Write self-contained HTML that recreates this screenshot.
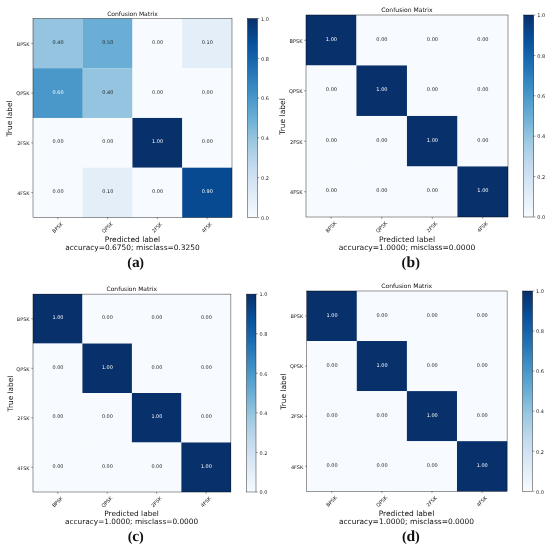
<!DOCTYPE html>
<html><head><meta charset="utf-8"><title>Confusion Matrix</title>
<style>
html,body{margin:0;padding:0;background:#fff}
body{width:550px;height:548px;overflow:hidden}
svg{display:block}
svg text{text-rendering:geometricPrecision}
.cap{font-family:"Liberation Serif","DejaVu Serif",serif;font-weight:bold;font-size:14.2px;fill:#111}
.cl{font-size:15.5px}
</style></head><body>
<svg width="550" height="548" viewBox="0 0 550 548" font-family="DejaVu Sans, Liberation Sans, sans-serif" fill="#111"><defs><linearGradient id="bl" x1="0" y1="0" x2="0" y2="1">
<stop offset="0.0000" stop-color="#08306b"/>
<stop offset="0.0625" stop-color="#084082"/>
<stop offset="0.1250" stop-color="#08509b"/>
<stop offset="0.1875" stop-color="#1460a8"/>
<stop offset="0.2500" stop-color="#2070b4"/>
<stop offset="0.3125" stop-color="#3181bd"/>
<stop offset="0.3750" stop-color="#4191c6"/>
<stop offset="0.4375" stop-color="#56a0ce"/>
<stop offset="0.5000" stop-color="#6aaed6"/>
<stop offset="0.5625" stop-color="#84bcdb"/>
<stop offset="0.6250" stop-color="#9dcae1"/>
<stop offset="0.6875" stop-color="#b2d2e8"/>
<stop offset="0.7500" stop-color="#c6dbef"/>
<stop offset="0.8125" stop-color="#d2e3f3"/>
<stop offset="0.8750" stop-color="#deebf7"/>
<stop offset="0.9375" stop-color="#eaf3fb"/>
<stop offset="1.0000" stop-color="#f7fbff"/>
</linearGradient></defs>
<g><rect x="32.95" y="18.45" width="49.85" height="49.85" fill="#94c4df"/><rect x="82.7" y="18.45" width="49.85" height="49.85" fill="#6aaed6"/><rect x="132.45" y="18.45" width="49.85" height="49.85" fill="#f7fbff"/><rect x="182.2" y="18.45" width="49.85" height="49.85" fill="#e3eef9"/><rect x="32.95" y="68.2" width="49.85" height="49.85" fill="#4a98c9"/><rect x="82.7" y="68.2" width="49.85" height="49.85" fill="#94c4df"/><rect x="132.45" y="68.2" width="49.85" height="49.85" fill="#f7fbff"/><rect x="182.2" y="68.2" width="49.85" height="49.85" fill="#f7fbff"/><rect x="32.95" y="117.95" width="49.85" height="49.85" fill="#f7fbff"/><rect x="82.7" y="117.95" width="49.85" height="49.85" fill="#f7fbff"/><rect x="132.45" y="117.95" width="49.85" height="49.85" fill="#08306b"/><rect x="182.2" y="117.95" width="49.85" height="49.85" fill="#f7fbff"/><rect x="32.95" y="167.7" width="49.85" height="49.85" fill="#f7fbff"/><rect x="82.7" y="167.7" width="49.85" height="49.85" fill="#e3eef9"/><rect x="132.45" y="167.7" width="49.85" height="49.85" fill="#f7fbff"/><rect x="182.2" y="167.7" width="49.85" height="49.85" fill="#084a91"/><rect x="33" y="18.5" width="199" height="199" fill="none" stroke="#000" stroke-width="0.4"/><rect x="247.5" y="18.5" width="10" height="199" fill="url(#bl)" stroke="#000" stroke-width="0.4"/><path d="M31.25 43.38h1.75M57.88 217.5v1.75M31.25 93.12h1.75M107.62 217.5v1.75M31.25 142.88h1.75M157.38 217.5v1.75M31.25 192.62h1.75M207.12 217.5v1.75M257.5 217.5h1.75M257.5 177.7h1.75M257.5 137.9h1.75M257.5 98.1h1.75M257.5 58.3h1.75M257.5 18.5h1.75" stroke="#000" stroke-width="0.4" fill="none"/><g font-size="4.95" fill="#222"><text x="29.5" y="45.63" text-anchor="end">BPSK</text><text transform="translate(57.52 227.4) rotate(-45)" text-anchor="middle" y="1.81">BPSK</text><text x="29.5" y="95.38" text-anchor="end">QPSK</text><text transform="translate(107.28 227.4) rotate(-45)" text-anchor="middle" y="1.81">QPSK</text><text x="29.5" y="145.13" text-anchor="end">2FSK</text><text transform="translate(157.03 227.4) rotate(-45)" text-anchor="middle" y="1.81">2FSK</text><text x="29.5" y="194.88" text-anchor="end">4FSK</text><text transform="translate(206.78 227.4) rotate(-45)" text-anchor="middle" y="1.81">4FSK</text><text x="261" y="219.76">0.0</text><text x="261" y="179.96">0.2</text><text x="261" y="140.16">0.4</text><text x="261" y="100.36">0.6</text><text x="261" y="60.56">0.8</text><text x="261" y="20.76">1.0</text><g text-anchor="middle"><text x="58.08" y="43.92">0.40</text><text x="107.83" y="43.92">0.50</text><text x="157.57" y="43.92">0.00</text><text x="207.32" y="43.92">0.10</text><text x="58.08" y="93.67" fill="#fff">0.60</text><text x="107.83" y="93.67">0.40</text><text x="157.57" y="93.67">0.00</text><text x="207.32" y="93.67">0.00</text><text x="58.08" y="143.43">0.00</text><text x="107.83" y="143.43">0.00</text><text x="157.57" y="143.43" fill="#fff">1.00</text><text x="207.32" y="143.43">0.00</text><text x="58.08" y="193.18">0.00</text><text x="107.83" y="193.18">0.10</text><text x="157.57" y="193.18">0.00</text><text x="207.32" y="193.18" fill="#fff">0.90</text></g></g><text x="132.5" y="15.7" text-anchor="middle" font-size="6">Confusion Matrix</text><g text-anchor="middle" font-size="7.45"><text x="132.5" y="241.8">Predicted label</text><text x="132.5" y="249.7">accuracy=0.6750; misclass=0.3250</text><text transform="translate(12.4 118.5) rotate(-90)">True label</text></g><text class="cap"><tspan x="127.3" y="266.6">(</tspan><tspan x="131.89" y="267.1" class="cl">a</tspan><tspan x="139.2" y="266.6">)</tspan></text></g>
<g><rect x="305.95" y="14.95" width="50.6" height="50.6" fill="#08306b"/><rect x="356.45" y="14.95" width="50.6" height="50.6" fill="#f7fbff"/><rect x="406.95" y="14.95" width="50.6" height="50.6" fill="#f7fbff"/><rect x="457.45" y="14.95" width="50.6" height="50.6" fill="#f7fbff"/><rect x="305.95" y="65.45" width="50.6" height="50.6" fill="#f7fbff"/><rect x="356.45" y="65.45" width="50.6" height="50.6" fill="#08306b"/><rect x="406.95" y="65.45" width="50.6" height="50.6" fill="#f7fbff"/><rect x="457.45" y="65.45" width="50.6" height="50.6" fill="#f7fbff"/><rect x="305.95" y="115.95" width="50.6" height="50.6" fill="#f7fbff"/><rect x="356.45" y="115.95" width="50.6" height="50.6" fill="#f7fbff"/><rect x="406.95" y="115.95" width="50.6" height="50.6" fill="#08306b"/><rect x="457.45" y="115.95" width="50.6" height="50.6" fill="#f7fbff"/><rect x="305.95" y="166.45" width="50.6" height="50.6" fill="#f7fbff"/><rect x="356.45" y="166.45" width="50.6" height="50.6" fill="#f7fbff"/><rect x="406.95" y="166.45" width="50.6" height="50.6" fill="#f7fbff"/><rect x="457.45" y="166.45" width="50.6" height="50.6" fill="#08306b"/><rect x="306" y="15" width="202" height="202" fill="none" stroke="#000" stroke-width="0.41"/><rect x="523.7" y="15" width="10" height="202" fill="url(#bl)" stroke="#000" stroke-width="0.41"/><path d="M304.22 40.25h1.78M331.25 217v1.78M304.22 90.75h1.78M381.75 217v1.78M304.22 141.25h1.78M432.25 217v1.78M304.22 191.75h1.78M482.75 217v1.78M533.7 217h1.78M533.7 176.6h1.78M533.7 136.2h1.78M533.7 95.8h1.78M533.7 55.4h1.78M533.7 15h1.78" stroke="#000" stroke-width="0.41" fill="none"/><g font-size="5.02" fill="#222"><text x="302.45" y="42.53" text-anchor="end">BPSK</text><text transform="translate(330.9 227.05) rotate(-45)" text-anchor="middle" y="1.83">BPSK</text><text x="302.45" y="93.03" text-anchor="end">QPSK</text><text transform="translate(381.4 227.05) rotate(-45)" text-anchor="middle" y="1.83">QPSK</text><text x="302.45" y="143.53" text-anchor="end">2FSK</text><text transform="translate(431.9 227.05) rotate(-45)" text-anchor="middle" y="1.83">2FSK</text><text x="302.45" y="194.03" text-anchor="end">4FSK</text><text transform="translate(482.4 227.05) rotate(-45)" text-anchor="middle" y="1.83">4FSK</text><text x="537.25" y="219.28">0.0</text><text x="537.25" y="178.88">0.2</text><text x="537.25" y="138.48">0.4</text><text x="537.25" y="98.08">0.6</text><text x="537.25" y="57.68">0.8</text><text x="537.25" y="17.28">1.0</text><g text-anchor="middle"><text x="331.45" y="40.8" fill="#fff">1.00</text><text x="381.95" y="40.8">0.00</text><text x="432.45" y="40.8">0.00</text><text x="482.95" y="40.8">0.00</text><text x="331.45" y="91.3">0.00</text><text x="381.95" y="91.3" fill="#fff">1.00</text><text x="432.45" y="91.3">0.00</text><text x="482.95" y="91.3">0.00</text><text x="331.45" y="141.8">0.00</text><text x="381.95" y="141.8">0.00</text><text x="432.45" y="141.8" fill="#fff">1.00</text><text x="482.95" y="141.8">0.00</text><text x="331.45" y="192.3">0.00</text><text x="381.95" y="192.3">0.00</text><text x="432.45" y="192.3">0.00</text><text x="482.95" y="192.3" fill="#fff">1.00</text></g></g><text x="407" y="12.16" text-anchor="middle" font-size="6.09">Confusion Matrix</text><g text-anchor="middle" font-size="7.55"><text x="407" y="241.67">Predicted label</text><text x="407" y="249.69">accuracy=1.0000; misclass=0.0000</text><text transform="translate(285.09 116.5) rotate(-90)">True label</text></g><text class="cap"><tspan x="401.4" y="266.6">(</tspan><tspan x="406.5" y="267.1" class="cl">b</tspan><tspan x="415.2" y="266.6">)</tspan></text></g>
<g><rect x="32.95" y="294.05" width="49.58" height="49.58" fill="#08306b"/><rect x="82.42" y="294.05" width="49.58" height="49.58" fill="#f7fbff"/><rect x="131.9" y="294.05" width="49.58" height="49.58" fill="#f7fbff"/><rect x="181.38" y="294.05" width="49.58" height="49.58" fill="#f7fbff"/><rect x="32.95" y="343.53" width="49.58" height="49.58" fill="#f7fbff"/><rect x="82.42" y="343.53" width="49.58" height="49.58" fill="#08306b"/><rect x="131.9" y="343.53" width="49.58" height="49.58" fill="#f7fbff"/><rect x="181.38" y="343.53" width="49.58" height="49.58" fill="#f7fbff"/><rect x="32.95" y="393" width="49.58" height="49.58" fill="#f7fbff"/><rect x="82.42" y="393" width="49.58" height="49.58" fill="#f7fbff"/><rect x="131.9" y="393" width="49.58" height="49.58" fill="#08306b"/><rect x="181.38" y="393" width="49.58" height="49.58" fill="#f7fbff"/><rect x="32.95" y="442.48" width="49.58" height="49.58" fill="#f7fbff"/><rect x="82.42" y="442.48" width="49.58" height="49.58" fill="#f7fbff"/><rect x="131.9" y="442.48" width="49.58" height="49.58" fill="#f7fbff"/><rect x="181.38" y="442.48" width="49.58" height="49.58" fill="#08306b"/><rect x="33" y="294.1" width="197.9" height="197.9" fill="none" stroke="#000" stroke-width="0.4"/><rect x="246.5" y="294.1" width="9.5" height="197.9" fill="url(#bl)" stroke="#000" stroke-width="0.4"/><path d="M31.26 318.84h1.74M57.74 492v1.74M31.26 368.31h1.74M107.21 492v1.74M31.26 417.79h1.74M156.69 492v1.74M31.26 467.26h1.74M206.16 492v1.74M256 492h1.74M256 452.42h1.74M256 412.84h1.74M256 373.26h1.74M256 333.68h1.74M256 294.1h1.74" stroke="#000" stroke-width="0.4" fill="none"/><g font-size="4.92" fill="#222"><text x="29.52" y="321.08" text-anchor="end">BPSK</text><text transform="translate(57.39 501.85) rotate(-45)" text-anchor="middle" y="1.8">BPSK</text><text x="29.52" y="370.56" text-anchor="end">QPSK</text><text transform="translate(106.86 501.85) rotate(-45)" text-anchor="middle" y="1.8">QPSK</text><text x="29.52" y="420.03" text-anchor="end">2FSK</text><text transform="translate(156.34 501.85) rotate(-45)" text-anchor="middle" y="1.8">2FSK</text><text x="29.52" y="469.51" text-anchor="end">4FSK</text><text transform="translate(205.81 501.85) rotate(-45)" text-anchor="middle" y="1.8">4FSK</text><text x="259.48" y="494.25">0.0</text><text x="259.48" y="454.67">0.2</text><text x="259.48" y="415.09">0.4</text><text x="259.48" y="375.51">0.6</text><text x="259.48" y="335.93">0.8</text><text x="259.48" y="296.35">1.0</text><g text-anchor="middle"><text x="57.94" y="319.39" fill="#fff">1.00</text><text x="107.41" y="319.39">0.00</text><text x="156.89" y="319.39">0.00</text><text x="206.36" y="319.39">0.00</text><text x="57.94" y="368.86">0.00</text><text x="107.41" y="368.86" fill="#fff">1.00</text><text x="156.89" y="368.86">0.00</text><text x="206.36" y="368.86">0.00</text><text x="57.94" y="418.34">0.00</text><text x="107.41" y="418.34">0.00</text><text x="156.89" y="418.34" fill="#fff">1.00</text><text x="206.36" y="418.34">0.00</text><text x="57.94" y="467.81">0.00</text><text x="107.41" y="467.81">0.00</text><text x="156.89" y="467.81">0.00</text><text x="206.36" y="467.81" fill="#fff">1.00</text></g></g><text x="131.75" y="291.32" text-anchor="middle" font-size="5.97">Confusion Matrix</text><g text-anchor="middle" font-size="7.36"><text x="131.55" y="516.17">Predicted label</text><text x="131.55" y="524.02">accuracy=1.0000; misclass=0.0000</text><text transform="translate(12.51 393.55) rotate(-90)">True label</text></g><text class="cap"><tspan x="127.8" y="540.8">(</tspan><tspan x="132.27" y="541.3" class="cl">c</tspan><tspan x="138.9" y="540.8">)</tspan></text></g>
<g><rect x="306.75" y="290.95" width="50.18" height="50.18" fill="#08306b"/><rect x="356.82" y="290.95" width="50.18" height="50.18" fill="#f7fbff"/><rect x="406.9" y="290.95" width="50.18" height="50.18" fill="#f7fbff"/><rect x="456.98" y="290.95" width="50.18" height="50.18" fill="#f7fbff"/><rect x="306.75" y="341.02" width="50.18" height="50.18" fill="#f7fbff"/><rect x="356.82" y="341.02" width="50.18" height="50.18" fill="#08306b"/><rect x="406.9" y="341.02" width="50.18" height="50.18" fill="#f7fbff"/><rect x="456.98" y="341.02" width="50.18" height="50.18" fill="#f7fbff"/><rect x="306.75" y="391.1" width="50.18" height="50.18" fill="#f7fbff"/><rect x="356.82" y="391.1" width="50.18" height="50.18" fill="#f7fbff"/><rect x="406.9" y="391.1" width="50.18" height="50.18" fill="#08306b"/><rect x="456.98" y="391.1" width="50.18" height="50.18" fill="#f7fbff"/><rect x="306.75" y="441.18" width="50.18" height="50.18" fill="#f7fbff"/><rect x="356.82" y="441.18" width="50.18" height="50.18" fill="#f7fbff"/><rect x="406.9" y="441.18" width="50.18" height="50.18" fill="#f7fbff"/><rect x="456.98" y="441.18" width="50.18" height="50.18" fill="#08306b"/><rect x="306.8" y="291" width="200.3" height="200.3" fill="none" stroke="#000" stroke-width="0.4"/><rect x="522.5" y="291" width="10.1" height="200.3" fill="url(#bl)" stroke="#000" stroke-width="0.4"/><path d="M305.04 316.04h1.76M331.84 491.3v1.76M305.04 366.11h1.76M381.91 491.3v1.76M305.04 416.19h1.76M431.99 491.3v1.76M305.04 466.26h1.76M482.06 491.3v1.76M532.6 491.3h1.76M532.6 451.24h1.76M532.6 411.18h1.76M532.6 371.12h1.76M532.6 331.06h1.76M532.6 291h1.76" stroke="#000" stroke-width="0.4" fill="none"/><g font-size="4.98" fill="#222"><text x="303.28" y="318.31" text-anchor="end">BPSK</text><text transform="translate(331.49 501.26) rotate(-45)" text-anchor="middle" y="1.82">BPSK</text><text x="303.28" y="368.38" text-anchor="end">QPSK</text><text transform="translate(381.56 501.26) rotate(-45)" text-anchor="middle" y="1.82">QPSK</text><text x="303.28" y="418.46" text-anchor="end">2FSK</text><text transform="translate(431.64 501.26) rotate(-45)" text-anchor="middle" y="1.82">2FSK</text><text x="303.28" y="468.53" text-anchor="end">4FSK</text><text transform="translate(481.71 501.26) rotate(-45)" text-anchor="middle" y="1.82">4FSK</text><text x="536.12" y="493.57">0.0</text><text x="536.12" y="453.51">0.2</text><text x="536.12" y="413.45">0.4</text><text x="536.12" y="373.39">0.6</text><text x="536.12" y="333.33">0.8</text><text x="536.12" y="293.27">1.0</text><g text-anchor="middle"><text x="332.04" y="316.59" fill="#fff">1.00</text><text x="382.11" y="316.59">0.00</text><text x="432.19" y="316.59">0.00</text><text x="482.26" y="316.59">0.00</text><text x="332.04" y="366.66">0.00</text><text x="382.11" y="366.66" fill="#fff">1.00</text><text x="432.19" y="366.66">0.00</text><text x="482.26" y="366.66">0.00</text><text x="332.04" y="416.74">0.00</text><text x="382.11" y="416.74">0.00</text><text x="432.19" y="416.74" fill="#fff">1.00</text><text x="482.26" y="416.74">0.00</text><text x="332.04" y="466.81">0.00</text><text x="382.11" y="466.81">0.00</text><text x="432.19" y="466.81">0.00</text><text x="482.26" y="466.81" fill="#fff">1.00</text></g></g><text x="406.73" y="288.18" text-anchor="middle" font-size="6.04">Confusion Matrix</text><g text-anchor="middle" font-size="7.47"><text x="406.5" y="515.76">Predicted label</text><text x="406.5" y="523.71">accuracy=1.0000; misclass=0.0000</text><text transform="translate(286.07 391.65) rotate(-90)">True label</text></g><text class="cap"><tspan x="401.9" y="540.8">(</tspan><tspan x="406.6" y="541.3" class="cl">d</tspan><tspan x="415.1" y="540.8">)</tspan></text></g></svg>
</body></html>
